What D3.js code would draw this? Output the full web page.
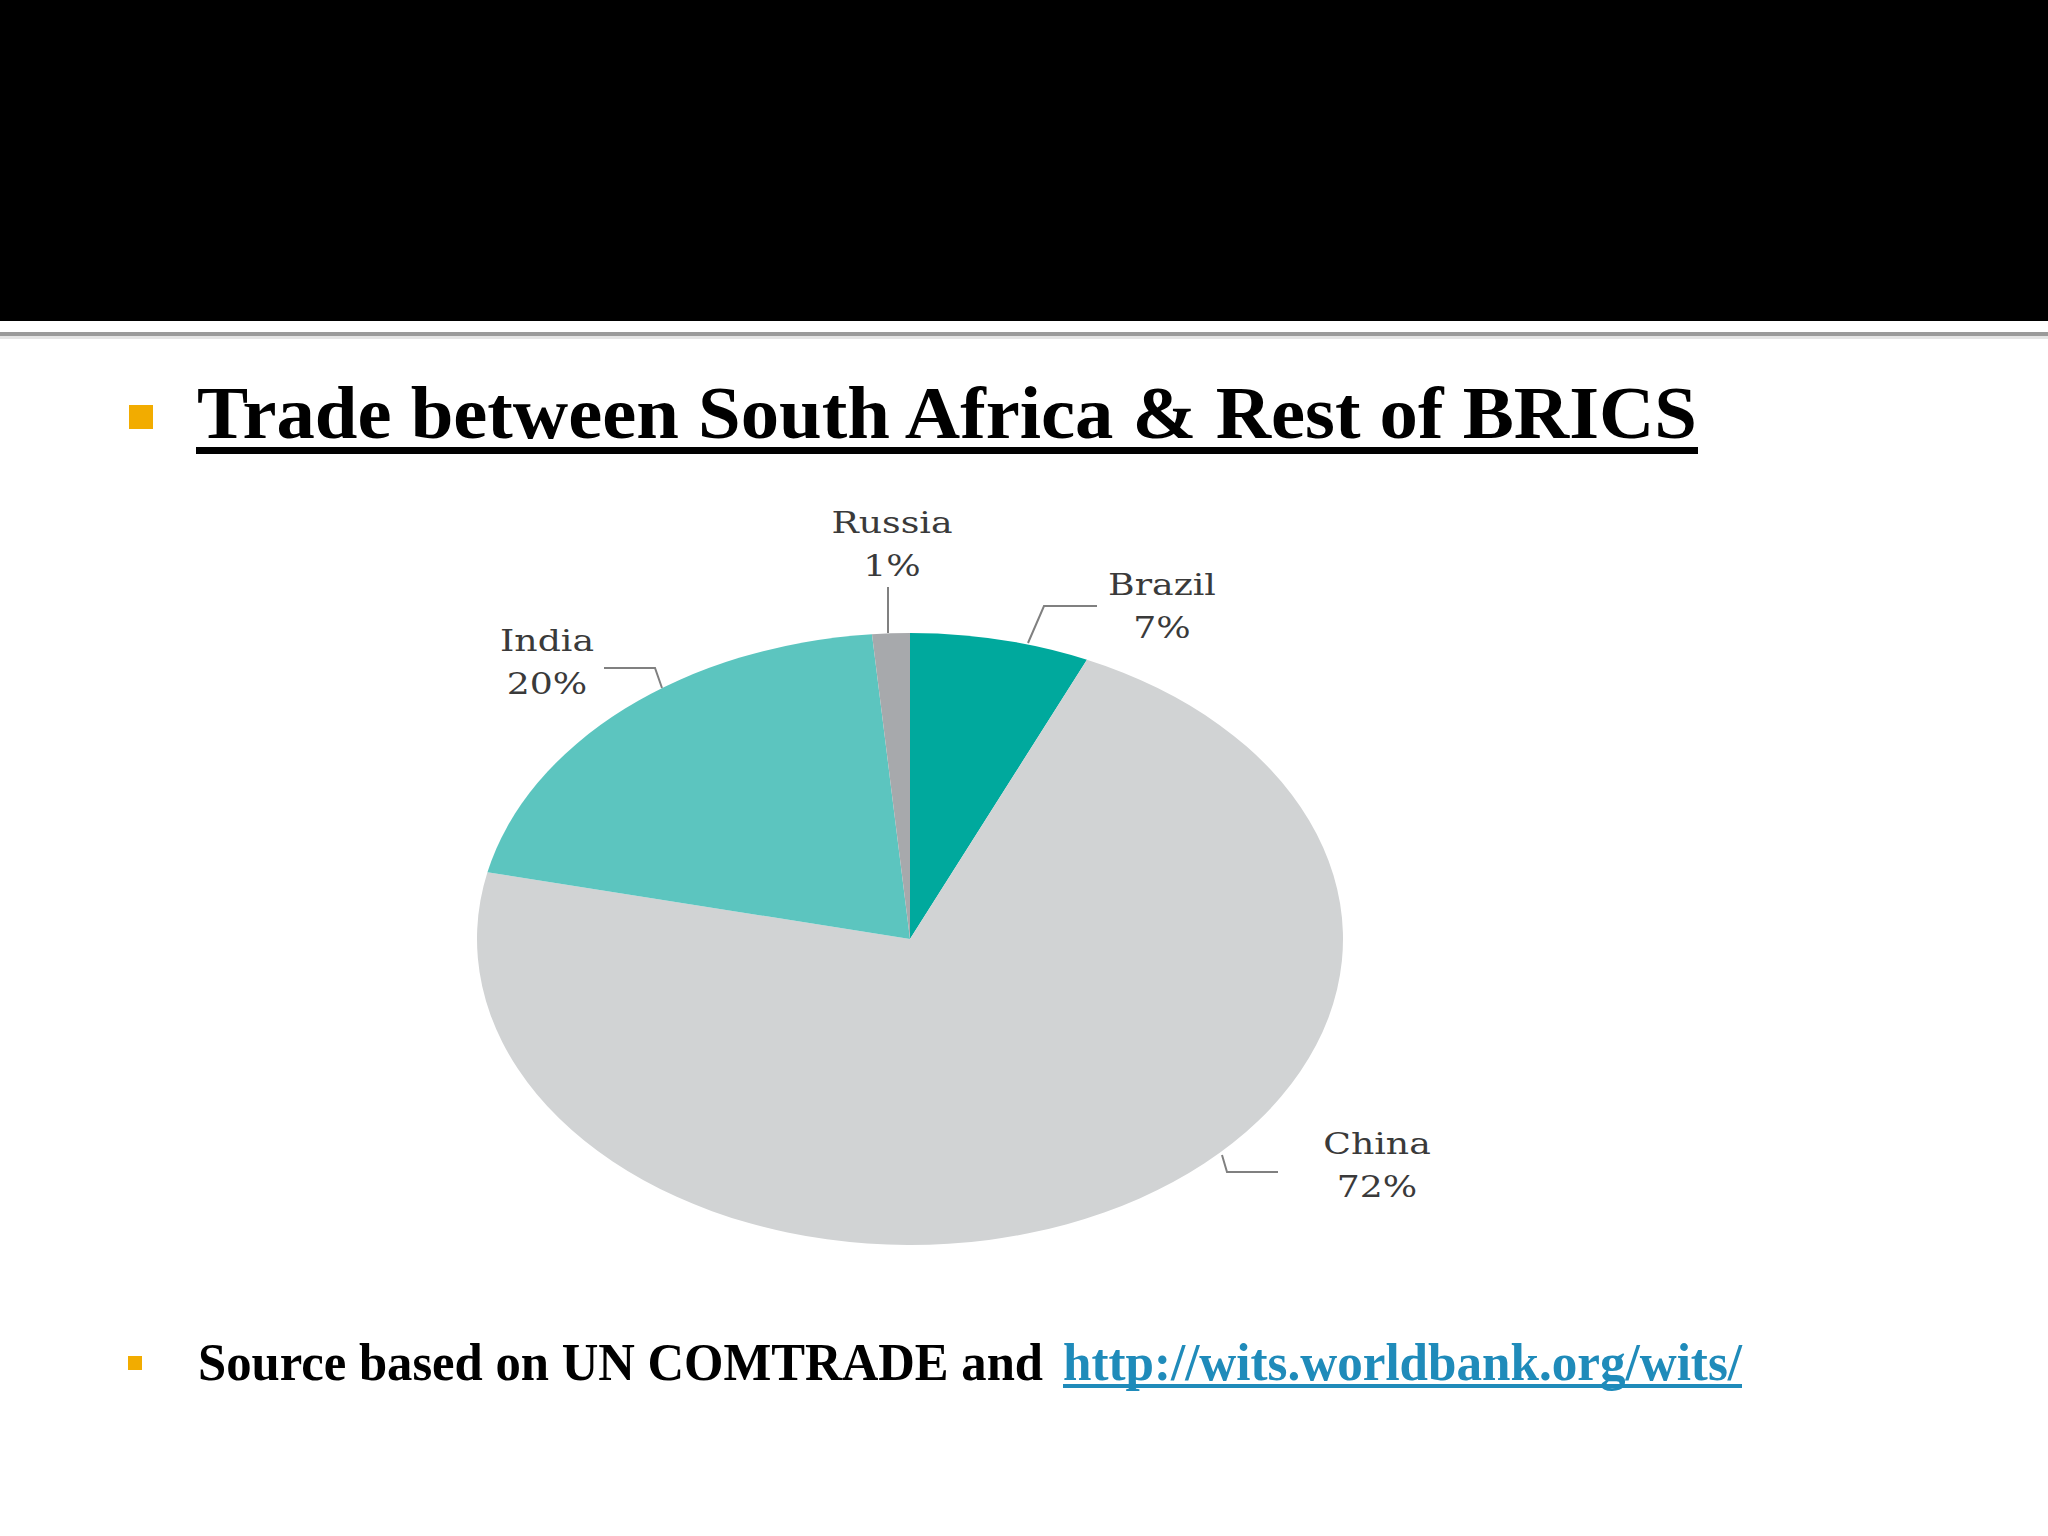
<!DOCTYPE html>
<html>
<head>
<meta charset="utf-8">
<script src="https://cdn.jsdelivr.net/npm/d3@7"></script>
<style>
  html, body { margin: 0; padding: 0; background: #fff; }
  svg { display: block; }
</style>
</head>
<body>
<figure style="margin:0"></figure>
<script>
(() => {

  ////////////////////////////////////
  ///////////// Data /////////////////
  ////////////////////////////////////

  // clockwise from 12 o'clock
  const countries = ["Brazil", "China", "India", "Russia"]
  const shares = [6.7, 71.8, 20.1, 1.4]
  const shareLabels = ["7%", "72%", "20%", "1%"]
  const colors = ["#00A99D", "#D1D3D4", "#5CC5BF", "#A7A9AC"]

  const titleText = "Trade between South Africa & Rest of BRICS"
  const sourceText = "Source based on UN COMTRADE and"
  const linkText = "http://wits.worldbank.org/wits/"

  ////////////////////////////////////
  ///////////// SVG Setup ////////////
  ////////////////////////////////////

  const svgWidth = 2048
  const svgHeight = 1536

  const svg = d3.select('figure')
    .append('svg')
    .attr('width', svgWidth)
    .attr('height', svgHeight)

  // slide header
  svg.append('rect')
    .attr('x', 0).attr('y', 0)
    .attr('width', svgWidth).attr('height', 321)
    .attr('fill', '#000')
  svg.append('rect')
    .attr('x', 0).attr('y', 332)
    .attr('width', svgWidth).attr('height', 4)
    .attr('fill', '#9a9a9a')
  svg.append('rect')
    .attr('x', 0).attr('y', 336)
    .attr('width', svgWidth).attr('height', 3)
    .attr('fill', '#e4e4e4')

  ////////////////////////////////////
  ///////////// Title ////////////////
  ////////////////////////////////////

  svg.append('rect')
    .attr('x', 129).attr('y', 405)
    .attr('width', 24).attr('height', 24)
    .attr('fill', '#F2AC00')

  svg.append('text')
    .attr('x', 197)
    .attr('y', 438)
    .attr('textLength', 1500)
    .attr('lengthAdjust', 'spacingAndGlyphs')
    .style('font-family', "'Liberation Serif', 'Times New Roman', serif")
    .style('font-weight', 700)
    .style('font-size', '75px')
    .style('fill', '#000')
    .text(titleText)

  svg.append('rect')
    .attr('x', 196).attr('y', 447)
    .attr('width', 1502).attr('height', 7)
    .attr('fill', '#000')

  ////////////////////////////////////
  ///////////// Pie //////////////////
  ////////////////////////////////////

  const cx = 910, cy = 939
  const rx = 433, ry = 306

  const pieData = countries.map((c, i) => ({ name: c, value: shares[i], label: shareLabels[i], color: colors[i] }))

  const pie = d3.pie()
    .sort(null)
    .value(d => d.value)

  const arc = d3.arc()
    .innerRadius(0)
    .outerRadius(rx)

  svg.append('g')
    .attr('transform', `translate(${cx},${cy}) scale(1,${ry / rx})`)
    .selectAll('path')
    .data(pie(pieData))
    .enter().append('path')
    .attr('d', arc)
    .attr('fill', d => d.data.color)

  ////////////////////////////////////
  ///////////// Labels ///////////////
  ////////////////////////////////////

  // label placement (layout only)
  const labelLayout = {
    Brazil: { x: 1162, y: 595, leader: [[1097, 606], [1044, 606], [1028, 643]] },
    China:  { x: 1377, y: 1154, leader: [[1222, 1155], [1227, 1172], [1278, 1172]] },
    India:  { x: 547, y: 651, leader: [[604, 668], [655, 668], [662, 688]] },
    Russia: { x: 892, y: 533, leader: [[888, 587], [888, 633]] }
  }

  const line = d3.line()

  svg.append('g')
    .selectAll('path')
    .data(pieData)
    .enter().append('path')
    .attr('d', d => line(labelLayout[d.name].leader))
    .attr('fill', 'none')
    .attr('stroke', '#808080')
    .attr('stroke-width', 2)

  const labels = svg.append('g')
    .selectAll('g')
    .data(pieData)
    .enter().append('g')
    .attr('transform', d => `translate(${labelLayout[d.name].x},${labelLayout[d.name].y}) scale(1.25,1)`)
    .style('font-family', "'DejaVu Serif', serif")
    .style('font-size', '29px')
    .style('fill', '#3a3a3a')
    .attr('text-anchor', 'middle')

  labels.append('text')
    .attr('x', 0).attr('y', 0)
    .text(d => d.name)

  labels.append('text')
    .attr('x', 0).attr('y', 43)
    .text(d => d.label)

  ////////////////////////////////////
  ///////////// Source ///////////////
  ////////////////////////////////////

  svg.append('rect')
    .attr('x', 128).attr('y', 1356)
    .attr('width', 14).attr('height', 14)
    .attr('fill', '#F2AC00')

  svg.append('text')
    .attr('x', 198)
    .attr('y', 1380)
    .attr('textLength', 845)
    .attr('lengthAdjust', 'spacingAndGlyphs')
    .style('font-family', "'Liberation Serif', 'Times New Roman', serif")
    .style('font-weight', 700)
    .style('font-size', '52px')
    .style('fill', '#000')
    .text(sourceText)

  svg.append('text')
    .attr('x', 1063)
    .attr('y', 1380)
    .attr('textLength', 679)
    .attr('lengthAdjust', 'spacingAndGlyphs')
    .style('font-family', "'Liberation Serif', 'Times New Roman', serif")
    .style('font-weight', 700)
    .style('font-size', '52px')
    .style('fill', '#1F8BBA')
    .text(linkText)

  svg.append('rect')
    .attr('x', 1063).attr('y', 1384)
    .attr('width', 679).attr('height', 4)
    .attr('fill', '#1F8BBA')

})()
</script>
</body>
</html>
